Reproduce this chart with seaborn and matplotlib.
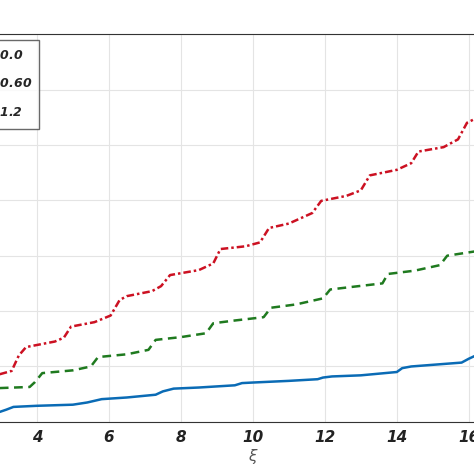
import numpy as np
import pandas as pd
import matplotlib
matplotlib.use("Agg")
import matplotlib.pyplot as plt
import seaborn as sns

labels = [r"$(\xi_{ch})^2$=0.0", r"$(\xi_{ch})^2$=0.60", r"$(\xi_{ch})^2$=1.2"]
xtick_vals = [0, 2, 4, 6, 8, 10, 12, 14, 16]
xtick_labels = ["", "", "4", "6", "8", "10", "12", "14", "16"]

blue_x = [2.97, 3.15, 3.35, 4.0, 5.0, 5.4, 5.8, 6.5, 7.3, 7.5, 7.8, 8.5, 9.5, 9.7, 10.0, 11.0, 11.8, 11.95, 12.2, 13.0, 14.0, 14.15, 14.4, 15.0, 15.8, 16.0, 16.2]
blue_y = [0.18, 0.22, 0.27, 0.29, 0.31, 0.35, 0.41, 0.44, 0.49, 0.55, 0.60, 0.62, 0.66, 0.70, 0.71, 0.74, 0.77, 0.80, 0.82, 0.84, 0.90, 0.97, 1.00, 1.03, 1.07, 1.14, 1.20]

green_x = [2.97, 3.8, 3.95, 4.15, 5.0, 5.5, 5.7, 6.5, 7.1, 7.3, 8.0, 8.7, 8.9, 9.5, 10.3, 10.5, 11.2, 11.95, 12.15, 12.8, 13.6, 13.75, 14.5, 15.2, 15.4, 16.2]
green_y = [0.61, 0.63, 0.72, 0.88, 0.93, 1.00, 1.17, 1.22, 1.30, 1.48, 1.53, 1.60, 1.78, 1.83, 1.89, 2.06, 2.12, 2.23, 2.39, 2.44, 2.50, 2.67, 2.73, 2.83, 3.00, 3.08]

red_x = [2.97, 3.3, 3.5, 3.7, 4.5, 4.75, 4.95, 5.6, 6.05, 6.3, 6.5, 7.2, 7.45, 7.7, 8.5, 8.9, 9.1, 9.8, 10.2, 10.45, 11.0, 11.65, 11.9, 12.6, 13.0, 13.25, 14.0, 14.4, 14.6, 15.3, 15.7, 15.95, 16.2]
red_y = [0.86, 0.92, 1.20, 1.35, 1.45, 1.52, 1.72, 1.80, 1.92, 2.20, 2.27, 2.36, 2.45, 2.65, 2.74, 2.86, 3.12, 3.17, 3.24, 3.50, 3.58, 3.77, 3.99, 4.08, 4.18, 4.45, 4.55, 4.67, 4.88, 4.96, 5.10, 5.40, 5.48]

df = pd.concat([
    pd.DataFrame({"xi": blue_x, "val": blue_y, "case": labels[0]}),
    pd.DataFrame({"xi": green_x, "val": green_y, "case": labels[1]}),
    pd.DataFrame({"xi": red_x, "val": red_y, "case": labels[2]}),
])

sns.set_style("white")
fig = plt.figure(figsize=(4.74, 4.74), dpi=100)
ax = fig.add_axes([-0.226, 0.110, 1.291, 0.818])
palette = {labels[0]: "#0a6bb5", labels[1]: "#1f7a1f", labels[2]: "#cc1122"}
sns.lineplot(data=df, x="xi", y="val", hue="case", palette=palette, ax=ax,
             linewidth=1.8, legend=False, sort=False, estimator=None)
lines = ax.get_lines()
lines[1].set_linestyle((0, (3.5, 2.2)))
lines[2].set_linestyle((0, (3, 1.2, 1, 1.2)))

ax.set_xlim(0, 17)
ax.set_ylim(0, 7)
ax.set_xticks(xtick_vals)
ax.set_xticklabels(xtick_labels)
ax.set_yticks(range(0, 8))
ax.set_yticklabels([])
ax.grid(True, color="#e4e4e4", linewidth=0.8)
for s in ax.spines.values():
    s.set_color("#333333")
    s.set_linewidth(0.8)
ax.tick_params(axis="x", direction="in", length=5, color="#333333", labelsize=11, pad=6)
for t in ax.get_xticklabels():
    t.set_fontweight("bold"); t.set_fontstyle("italic"); t.set_color("#222222")
ax.set_xlabel(r"$\xi$", fontsize=11, color="#555555")
ax.xaxis.set_label_coords(10 / 17, -0.065)
ax.set_ylabel("")

leg = fig.legend(lines, labels, loc="upper right", bbox_to_anchor=(45/474, 1 - 34/474),
                 prop={"weight": "bold", "style": "italic", "size": 9},
                 frameon=True, fancybox=False, edgecolor="#444444", handlelength=2.5,
                 labelspacing=0.7, borderpad=0.5)
fig.savefig("out.png", dpi=100)
